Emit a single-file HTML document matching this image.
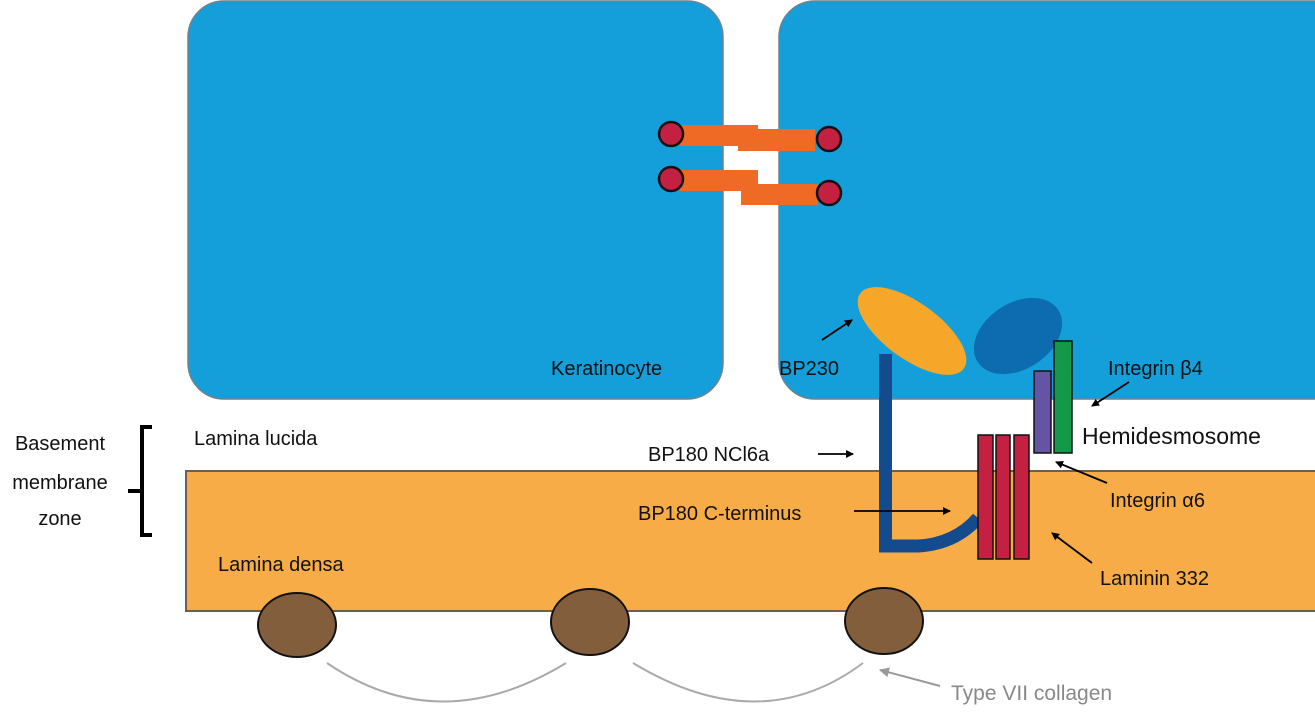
<!DOCTYPE html>
<html><head><style>body{margin:0;background:#fff}svg{display:block}text{font-family:"Liberation Sans",sans-serif;font-size:20px;fill:#111}</style></head>
<body>
<svg width="1315" height="712" viewBox="0 0 1315 712">
<defs><marker id="a" markerWidth="8" markerHeight="8" refX="7" refY="4" orient="auto" markerUnits="userSpaceOnUse"><path d="M0,0 L8,4 L0,8 Z" fill="#000"/></marker>
<marker id="g" markerWidth="10" markerHeight="10" refX="9" refY="5" orient="auto" markerUnits="userSpaceOnUse"><path d="M0,0 L10,5 L0,10 Z" fill="#999"/></marker></defs>
<rect x="188" y="1" width="535" height="398" rx="36" fill="#149fda" stroke="#6c8390" stroke-width="1.5"/>
<rect x="779" y="1" width="580" height="398" rx="36" fill="#149fda" stroke="#6c8390" stroke-width="1.5"/>
<rect x="186" y="471" width="1135" height="140" fill="#f8ac47" stroke="#6b5f4e" stroke-width="2"/>
<rect x="680" y="125" width="78" height="21" fill="#ef6a25"/><rect x="738" y="129" width="77" height="22" fill="#ef6a25"/>
<rect x="680" y="170" width="78" height="21" fill="#ef6a25"/><rect x="741" y="184" width="77" height="21" fill="#ef6a25"/>
<g fill="#c42041" stroke="#111" stroke-width="2.5"><circle cx="671" cy="134" r="12"/><circle cx="829" cy="139" r="12"/><circle cx="671" cy="179" r="12"/><circle cx="829" cy="193" r="12"/></g>
<ellipse cx="912" cy="331" rx="64" ry="28" transform="rotate(36 912 331)" fill="#f6a72a"/>
<ellipse cx="1018" cy="336" rx="48" ry="33" transform="rotate(-33 1018 336)" fill="#0d6cb0"/>
<path d="M885.5,354 V546 H918 Q955,544 978,518" fill="none" stroke="#144b8c" stroke-width="13"/>
<g fill="#c42041" stroke="#111" stroke-width="1.5"><rect x="978" y="435" width="15" height="124"/><rect x="996" y="435" width="14" height="124"/><rect x="1014" y="435" width="15" height="124"/></g>
<rect x="1034" y="371" width="17" height="82" fill="#6553a3" stroke="#111" stroke-width="1.5"/>
<rect x="1054" y="341" width="18" height="112" fill="#14994a" stroke="#111" stroke-width="1.5"/>
<g fill="#835e3c" stroke="#111" stroke-width="2"><ellipse cx="297" cy="625" rx="39" ry="32"/><ellipse cx="590" cy="622" rx="39" ry="33"/><ellipse cx="884" cy="621" rx="39" ry="33"/></g>
<g fill="none" stroke="#aaa" stroke-width="2"><path d="M327,663 Q440,740 566,663"/><path d="M633,663 Q760,740 863,663"/></g>
<line x1="940" y1="686" x2="880" y2="670" stroke="#999" stroke-width="2" marker-end="url(#g)"/>
<text x="951" y="700" style="fill:#888;font-size:21px">Type VII collagen</text>
<path d="M152,427 H142 V535 H152 M128,491 H142" fill="none" stroke="#000" stroke-width="4"/>
<text x="60" y="450" text-anchor="middle">Basement</text>
<text x="60" y="489" text-anchor="middle">membrane</text>
<text x="60" y="525" text-anchor="middle">zone</text>
<text x="194" y="445">Lamina lucida</text>
<text x="218" y="571">Lamina densa</text>
<text x="551" y="375">Keratinocyte</text>
<text x="779" y="375">BP230</text>
<text x="648" y="461">BP180 NCl6a</text>
<text x="638" y="520">BP180 C-terminus</text>
<text x="1108" y="375">Integrin β4</text>
<text x="1082" y="444" style="font-size:23px">Hemidesmosome</text>
<text x="1110" y="507">Integrin α6</text>
<text x="1100" y="585">Laminin 332</text>
<g stroke="#000" stroke-width="1.8" marker-end="url(#a)">
<line x1="822" y1="340" x2="852" y2="320"/>
<line x1="818" y1="454" x2="853" y2="454"/>
<line x1="854" y1="511" x2="950" y2="511"/>
<line x1="1129" y1="382" x2="1092" y2="406"/>
<line x1="1107" y1="483" x2="1056" y2="462"/>
<line x1="1092" y1="563" x2="1052" y2="533"/>
</g>
</svg>
</body></html>
